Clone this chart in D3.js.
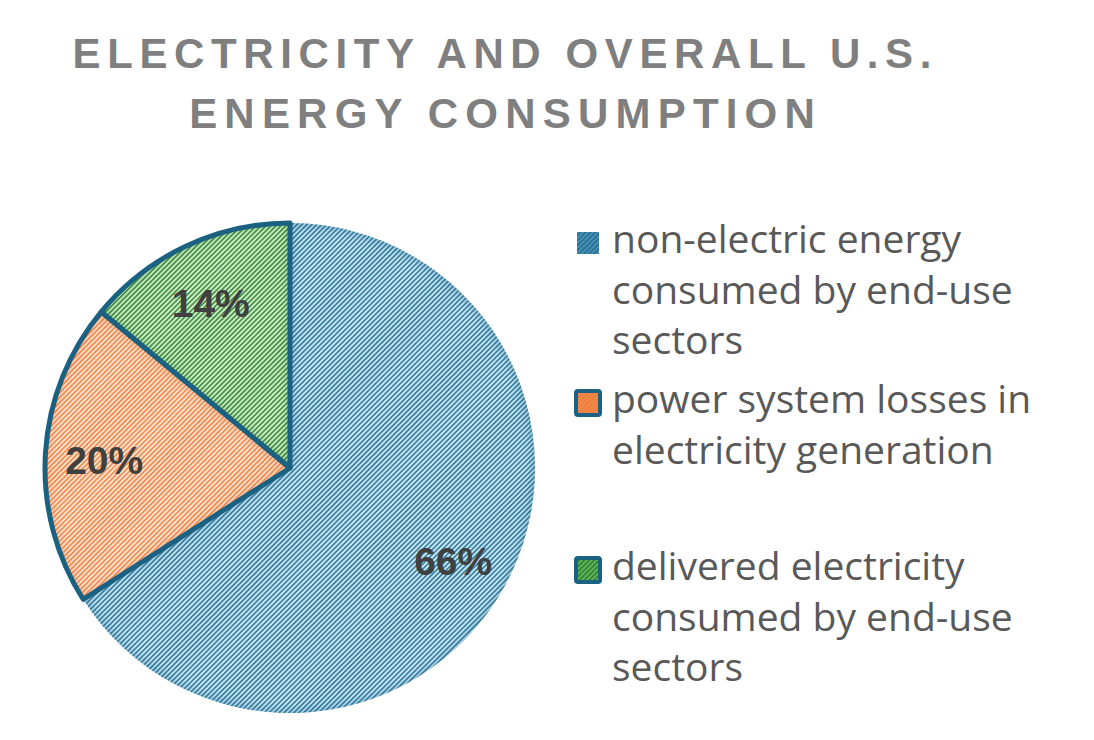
<!DOCTYPE html>
<html>
<head>
<meta charset="utf-8">
<script src="https://cdn.jsdelivr.net/npm/d3@7"></script>
<style>
  html, body { margin: 0; padding: 0; background: #ffffff; }
  #chart { width: 1094px; height: 740px; }
</style>
</head>
<body>
<div id="chart"></div>
<script>
// Electricity share of overall U.S. energy consumption (percent)
const categories = [
  "non-electric energy consumed by end-use sectors",
  "power system losses in electricity generation",
  "delivered electricity consumed by end-use sectors"
]
const shares = [66, 20, 14]
const legendLines = [
  ["non-electric energy", "consumed by end-use", "sectors"],
  ["power system losses in", "electricity generation"],
  ["delivered electricity", "consumed by end-use", "sectors"]
]
const titleLines = ["ELECTRICITY AND OVERALL U.S.", "ENERGY CONSUMPTION"]

// slice styling: base fill, hatch colour, inner-glow colour, outlined or not
const styles = [
  { key: "blue",   base: "#c8e8f7", hatch: "#1d6a8c", glow: "#4a8fb5", outline: false },
  { key: "orange", base: "#fde3d2", hatch: "#ee7a35", glow: "#f08a4c", outline: true },
  { key: "green",  base: "#cdefc8", hatch: "#2c7a2c", glow: "#5fb55a", outline: true }
]
const outlineColor = "#1b6182"

const width = 1094
const height = 740
const cx = 290, cy = 468, radius = 245

const svg = d3.select("#chart")
  .append("svg")
  .attr("width", width)
  .attr("height", height)

const defs = svg.append("defs")

styles.forEach(s => {
  // diagonal hatch "/"
  const pat = defs.append("pattern")
    .attr("id", `hatch-${s.key}`)
    .attr("patternUnits", "userSpaceOnUse")
    .attr("width", 3.5)
    .attr("height", 3.5)
    .attr("patternTransform", "rotate(45)")
  pat.append("line")
    .attr("x1", 0.8).attr("y1", 0)
    .attr("x2", 0.8).attr("y2", 3.5)
    .attr("stroke", s.hatch)
    .attr("stroke-width", 1.4)

  // inner glow so edges go darker, like the office gradient fill
  const f = defs.append("filter")
    .attr("id", `glow-${s.key}`)
    .attr("x", "-20%").attr("y", "-20%")
    .attr("width", "140%").attr("height", "140%")
  f.append("feComponentTransfer")
    .attr("in", "SourceAlpha")
    .attr("result", "inv")
    .append("feFuncA")
    .attr("type", "table")
    .attr("tableValues", "1 0")
  f.append("feGaussianBlur")
    .attr("in", "inv")
    .attr("stdDeviation", 6)
    .attr("result", "blur")
  f.append("feFlood")
    .attr("flood-color", s.glow)
    .attr("flood-opacity", 0.95)
  f.append("feComposite")
    .attr("in2", "blur")
    .attr("operator", "in")
    .attr("result", "shadow")
  f.append("feComposite")
    .attr("in", "shadow")
    .attr("in2", "SourceAlpha")
    .attr("operator", "in")
    .attr("result", "inner")
  const merge = f.append("feMerge")
  merge.append("feMergeNode").attr("in", "SourceGraphic")
  merge.append("feMergeNode").attr("in", "inner")
})

// Title
const title = svg.append("g")
  .attr("fill", "#7f7f7f")
  .style("font-family", "'Liberation Sans', Arial, sans-serif")
  .style("font-weight", "bold")
  .style("font-size", "42px")

title.selectAll("text")
  .data(titleLines)
  .enter()
  .append("text")
  .attr("x", (d, i) => 502 + (i ? 3.6 : 3.3))
  .attr("y", (d, i) => 68 + i * 59.5)
  .attr("text-anchor", "middle")
  .style("letter-spacing", (d, i) => i ? "7.2px" : "6.6px")
  .text(d => d)

// Pie
const pie = d3.pie().sort(null).value(d => d)
const arcs = pie(shares)

const arc = d3.arc().innerRadius(0).outerRadius(radius)
const labelArc = d3.arc().innerRadius(radius * 0.76).outerRadius(radius * 0.76)

const pieG = svg.append("g")
  .attr("transform", `translate(${cx},${cy})`)

const slices = pieG.selectAll(".slice")
  .data(arcs)
  .enter()
  .append("g")
  .attr("class", "slice")

slices.append("path")
  .attr("d", arc)
  .attr("fill", (d, i) => styles[i].base)
  .attr("filter", (d, i) => `url(#glow-${styles[i].key})`)

slices.append("path")
  .attr("d", arc)
  .attr("fill", (d, i) => `url(#hatch-${styles[i].key})`)

// outlines drawn on top of everything
pieG.selectAll(".outline")
  .data(arcs.filter((d, i) => styles[i].outline))
  .enter()
  .append("path")
  .attr("class", "outline")
  .attr("d", arc)
  .attr("fill", "none")
  .attr("stroke", outlineColor)
  .attr("stroke-width", 5)
  .attr("stroke-linejoin", "round")

pieG.selectAll(".pct")
  .data(arcs)
  .enter()
  .append("text")
  .attr("class", "pct")
  .attr("transform", d => `translate(${labelArc.centroid(d)})`)
  .attr("text-anchor", "middle")
  .attr("dy", "0.45em")
  .attr("fill", "#404040")
  .style("font-family", "'Liberation Sans', Arial, sans-serif")
  .style("font-weight", "bold")
  .style("font-size", "39px")
  .text(d => `${d.data}%`)

// Legend
const legendX = 588
const legendTextX = 612
const lineH = 50.5
const itemTop = [253, 413, 580]

const legend = svg.append("g")
  .style("font-family", "'Open Sans', 'Noto Sans', sans-serif")
  .style("font-size", "39px")

const items = legend.selectAll(".item")
  .data(categories)
  .enter()
  .append("g")
  .attr("class", "item")

items.each(function(d, i) {
  const g = d3.select(this)
  const s = styles[i]
  const my = itemTop[i] - 10
  const size = s.outline ? 24 : 22
  g.append("rect")
    .attr("x", legendX - size / 2)
    .attr("y", my - size / 2)
    .attr("width", size)
    .attr("height", size)
    .attr("rx", s.outline ? 2 : 0)
    .attr("fill", s.glow)
  g.append("rect")
    .attr("x", legendX - size / 2)
    .attr("y", my - size / 2)
    .attr("width", size)
    .attr("height", size)
    .attr("rx", s.outline ? 2 : 0)
    .attr("fill", `url(#hatch-${s.key})`)
    .attr("stroke", s.outline ? outlineColor : "none")
    .attr("stroke-width", s.outline ? 4 : 0)

  g.selectAll("text")
    .data(legendLines[i])
    .enter()
    .append("text")
    .attr("x", legendTextX)
    .attr("y", (t, j) => itemTop[i] + j * lineH)
    .attr("fill", "#595959")
    .text(t => t)
})
</script>
</body>
</html>
